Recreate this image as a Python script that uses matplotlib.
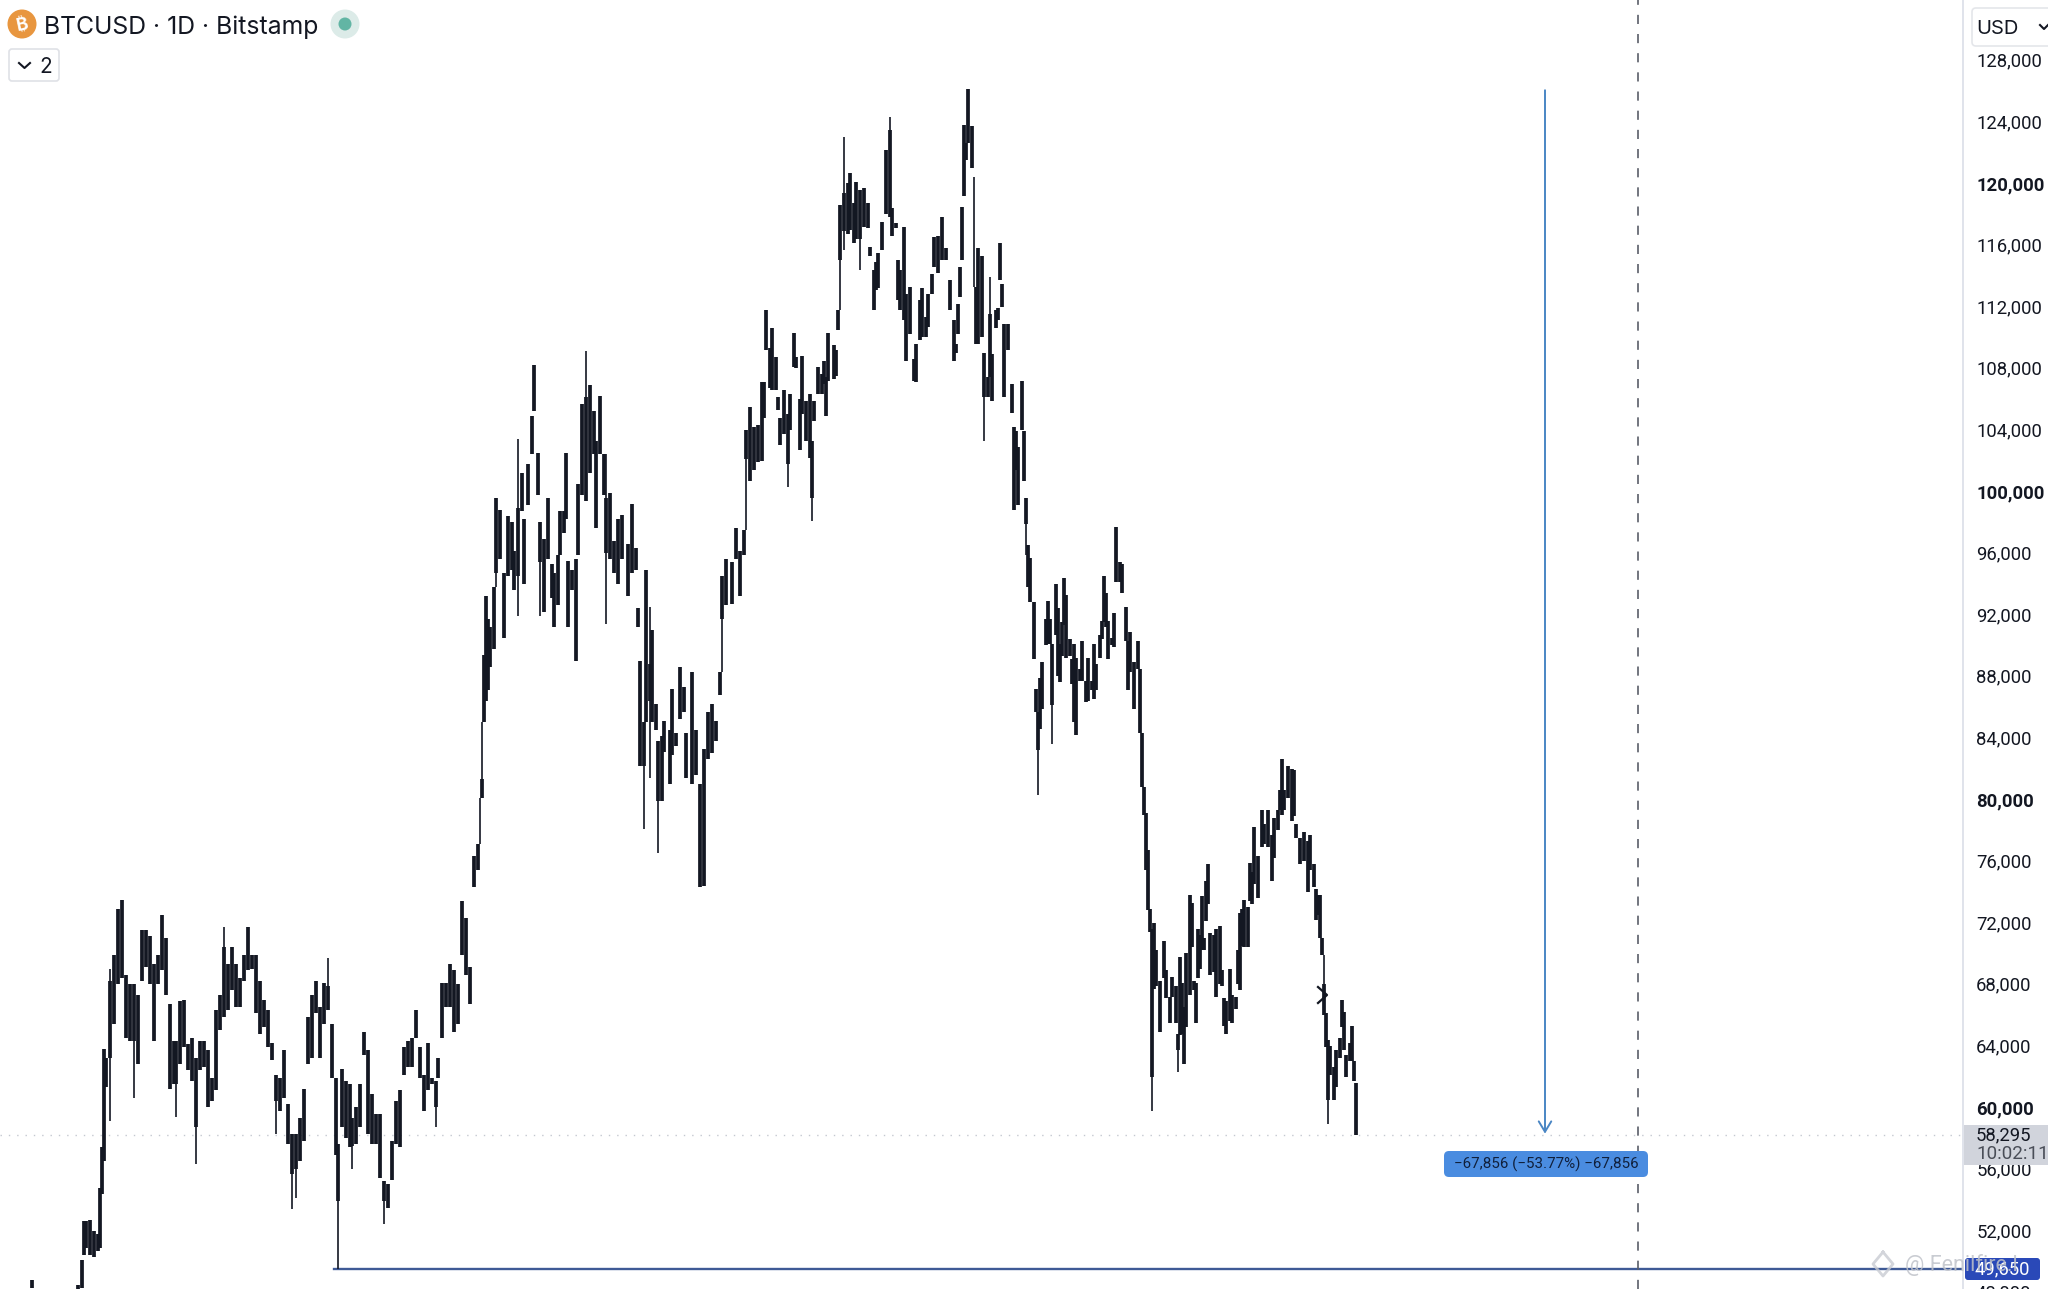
import matplotlib
matplotlib.use('Agg')
import matplotlib.pyplot as plt
from matplotlib.patches import Circle, FancyBboxPatch, Rectangle

# Prices in thousands of USD, one day = 2 px on the chart
days_a = [16, 39, 41, 42, 43, 45, 47, 49, 50, 51,
          52, 53, 55, 57, 59, 61, 63, 65, 67, 69,
          71, 73, 75, 77, 79, 81, 83, 85, 87, 88,
          90, 92, 94, 96, 98, 100, 102, 104, 106, 108,
          110, 112, 114, 116, 118, 120, 122, 124, 126, 128,
          130, 132, 134, 136, 138, 140, 142, 144, 146, 148,
          150, 152, 154, 156, 158, 160, 162, 164, 166, 168,
          169, 171, 173, 175, 176, 178, 180, 182, 184, 186,
          188, 190, 192, 194, 196, 198, 200, 202, 204, 206,
          208, 210, 212, 214, 216, 218, 219, 221, 223, 225,
          227, 229, 231, 233, 235, 237]
highs_a = [48.9, 48.6, 50.2, 52.7, 52.7, 52.8, 52.1, 51.9, 54.9, 57.5,
           63.9, 63.3, 68.3, 70.0, 73.0, 73.6, 68.7, 68.1, 68.1, 67.4,
           71.6, 71.6, 71.2, 69.4, 70.0, 72.6, 71.1, 66.8, 64.4, 64.4,
           67.0, 67.1, 64.2, 64.6, 63.3, 64.4, 64.4, 63.8, 62.0, 66.4,
           67.4, 70.5, 69.4, 70.5, 69.4, 68.5, 70.0, 71.8, 70.0, 70.0,
           68.3, 67.1, 66.4, 64.3, 62.2, 62.0, 63.8, 60.3, 58.4, 58.4,
           59.4, 61.3, 66.0, 67.4, 68.3, 66.6, 68.2, 68.0, 65.5, 62.0,
           57.7, 62.6, 61.8, 61.6, 59.4, 60.1, 61.6, 65.0, 63.8, 61.0,
           59.7, 59.7, 55.3, 55.1, 57.9, 60.5, 61.2, 64.0, 64.4, 64.6,
           66.4, 64.0, 62.2, 64.3, 62.0, 61.8, 63.3, 68.2, 68.2, 69.4,
           69.0, 68.1, 73.5, 72.4, 69.2, 76.4]
lows_a = [48.4, 48.1, 48.4, 50.5, 51.0, 50.5, 50.4, 50.8, 51.0, 54.5,
          56.6, 61.4, 63.3, 65.5, 68.1, 68.5, 64.6, 64.4, 64.4, 62.9,
          68.3, 69.2, 68.1, 64.4, 68.1, 69.0, 67.4, 61.3, 61.6, 61.6,
          62.9, 64.0, 62.5, 61.8, 58.8, 62.5, 62.7, 60.1, 60.5, 61.2,
          65.1, 66.0, 66.4, 67.7, 66.6, 66.6, 68.3, 69.0, 69.1, 66.2,
          64.9, 65.3, 64.0, 63.2, 60.5, 59.9, 60.7, 57.7, 55.8, 56.1,
          56.6, 57.9, 62.9, 63.3, 66.2, 63.3, 65.5, 66.4, 62.0, 57.0,
          54.0, 58.8, 58.1, 57.5, 57.6, 57.7, 58.8, 63.5, 58.4, 57.7,
          57.7, 55.5, 54.0, 53.6, 55.4, 57.7, 57.5, 62.2, 62.7, 62.7,
          64.6, 62.0, 59.9, 61.2, 61.6, 60.1, 62.0, 64.6, 66.6, 66.6,
          65.0, 65.5, 70.0, 68.7, 66.8, 74.4]

days_b = [239, 241, 242, 243, 244, 245, 247, 248, 250, 252,
          254, 256, 257, 259, 261, 262, 264, 266, 267, 269,
          270, 272, 274, 276, 277, 279, 280, 282, 283, 284,
          286, 288, 289, 291, 293, 295, 297, 298, 300, 302,
          303, 305, 307, 309, 311, 314, 316, 318, 319, 320,
          322, 323, 325, 326, 328, 329, 331, 332, 335, 336,
          338, 340, 342, 343, 346, 348, 350, 352, 354, 356,
          358, 360, 361, 363, 366, 368, 370, 372, 373, 375]
highs_b = [77.2, 81.4, 89.5, 93.3, 91.8, 91.3, 93.9, 99.7, 98.9, 94.8,
           98.5, 98.1, 96.2, 99.0, 101.3, 98.3, 101.9, 105.0, 108.3, 102.6,
           98.1, 97.0, 99.7, 95.4, 94.8, 96.0, 98.8, 98.8, 102.6, 95.6,
           95.0, 95.7, 100.6, 105.8, 106.2, 107.0, 105.3, 103.4, 106.3, 102.5,
           99.7, 100.0, 96.9, 98.3, 98.6, 96.7, 99.3, 96.4, 92.5, 89.1,
           85.1, 95.0, 88.9, 91.1, 86.3, 83.9, 84.2, 85.2, 84.6, 87.3,
           84.4, 88.7, 87.4, 84.4, 88.4, 84.6, 81.1, 83.4, 85.8, 86.3,
           85.2, 88.4, 94.6, 95.7, 95.5, 97.7, 96.2, 97.6, 104.1, 105.6]
lows_b = [75.5, 80.2, 85.1, 86.5, 87.2, 88.7, 89.9, 94.8, 95.7, 90.6,
          94.6, 95.0, 93.7, 94.6, 98.8, 94.1, 99.2, 102.5, 105.3, 99.9,
          95.5, 92.3, 95.7, 93.2, 91.3, 92.7, 96.0, 97.4, 98.3, 91.3,
          93.7, 89.1, 96.0, 99.9, 99.5, 101.3, 102.5, 97.7, 102.5, 99.9,
          96.1, 95.7, 94.8, 94.1, 95.7, 93.3, 94.8, 95.0, 91.3, 82.3,
          82.3, 85.1, 86.5, 85.1, 84.6, 80.0, 80.0, 83.2, 81.1, 83.0,
          83.6, 85.3, 85.8, 81.5, 81.1, 81.7, 74.4, 74.5, 82.7, 83.1,
          83.9, 86.9, 91.8, 92.7, 92.8, 95.7, 93.3, 96.0, 102.2, 100.8]

days_c = [377, 379, 381, 382, 383, 385, 386, 388, 389, 390,
          392, 394, 395, 397, 398, 400, 401, 403, 405, 406,
          407, 409, 411, 412, 413, 414, 417, 418, 419, 420,
          422, 424, 425, 427, 428, 430, 432, 434, 435, 437,
          438, 439, 441, 443, 445, 446, 448, 449, 450, 452,
          453, 455, 457, 458, 460, 461, 463, 464, 466, 467,
          469, 471, 473, 475, 477, 478, 479, 480, 481, 482,
          483, 484, 486, 488, 489, 491, 492, 494, 495, 496,
          498, 499, 500, 501, 502, 504, 506, 507, 508, 509,
          511, 512, 513]
highs_c = [104.3, 104.4, 107.2, 107.2, 111.9, 109.4, 110.7, 108.8, 106.2, 104.9,
           106.7, 105.1, 106.4, 110.4, 108.8, 106.1, 108.9, 106.0, 106.4, 103.4,
           106.0, 108.2, 107.7, 108.6, 107.5, 110.4, 109.6, 109.3, 111.9, 118.7,
           119.5, 120.1, 120.8, 118.8, 120.2, 119.7, 119.8, 118.8, 116.0, 114.5,
           115.0, 115.6, 117.6, 122.3, 123.6, 118.5, 117.5, 115.1, 114.5, 117.3,
           112.9, 113.4, 108.7, 109.7, 112.5, 113.3, 111.4, 112.9, 114.2, 116.6,
           116.7, 117.9, 115.9, 113.8, 111.2, 109.7, 112.3, 114.7, 118.6, 123.9,
           122.7, 126.2, 123.8, 113.4, 115.9, 115.4, 109.1, 107.5, 111.6, 109.0,
           111.9, 112.0, 116.2, 113.6, 111.0, 111.0, 107.1, 104.3, 104.0, 103.0,
           107.3, 104.0, 99.7]
lows_c = [101.5, 102.0, 102.1, 104.9, 109.3, 106.8, 106.7, 106.7, 105.4, 103.1,
          103.8, 101.9, 104.1, 108.2, 108.1, 102.8, 105.1, 103.4, 102.3, 99.7,
          104.7, 106.4, 106.4, 107.1, 105.0, 107.3, 107.4, 107.6, 110.6, 115.1,
          117.0, 116.8, 117.1, 116.2, 116.5, 116.5, 117.3, 117.2, 115.4, 111.9,
          113.2, 113.3, 115.8, 118.1, 117.9, 116.7, 117.2, 112.5, 111.9, 111.2,
          108.6, 110.3, 107.3, 107.2, 109.9, 110.1, 110.1, 110.8, 112.9, 114.7,
          114.3, 115.1, 115.1, 111.9, 108.6, 109.1, 110.3, 112.7, 115.1, 119.3,
          121.6, 122.7, 121.1, 109.7, 109.7, 110.1, 106.2, 106.2, 107.5, 106.0,
          110.7, 111.2, 113.8, 112.1, 106.2, 109.3, 105.2, 98.9, 101.5, 99.2,
          104.1, 100.8, 98.0]

days_d = [514, 515, 517, 518, 519, 520, 521, 523, 524, 525,
          526, 528, 529, 530, 531, 532, 533, 535, 536, 537,
          538, 540, 541, 543, 544, 546, 547, 548, 550, 551,
          552, 553, 554, 556, 557, 558, 560, 561, 563, 564,
          565, 567, 569, 570, 571, 572, 573, 574, 575, 576,
          577, 578, 580, 582, 583, 585, 586, 588, 589, 590,
          591, 592, 593, 595, 596, 597, 598, 599, 600, 601,
          602, 603, 604, 605, 607, 608, 610, 611, 612, 613,
          615, 616, 618, 619, 620, 621, 622, 624, 625, 626,
          627, 629]
highs_d = [96.6, 95.8, 92.9, 87.3, 85.8, 88.0, 89.0, 91.8, 93.0, 91.8,
           90.2, 94.1, 92.5, 90.2, 91.6, 94.5, 93.4, 90.5, 89.2, 90.2,
           89.3, 88.6, 90.4, 87.8, 89.3, 87.8, 90.2, 88.9, 90.8, 91.7,
           94.6, 93.5, 91.7, 90.6, 92.2, 97.8, 95.5, 95.4, 92.6, 90.4,
           91.0, 89.0, 90.4, 88.6, 84.4, 80.9, 79.2, 76.8, 73.0, 71.7,
           72.1, 70.3, 68.3, 70.9, 69.0, 67.3, 68.6, 68.0, 64.9, 69.9,
           68.2, 66.6, 70.1, 73.9, 73.4, 68.3, 68.2, 71.7, 71.3, 73.8,
           71.1, 74.8, 75.9, 71.4, 71.3, 71.7, 71.9, 69.0, 67.2, 67.0,
           69.1, 67.4, 67.3, 70.3, 72.7, 73.0, 73.6, 73.1, 76.0, 75.4,
           78.3, 76.4]
lows_d = [93.9, 92.9, 89.2, 85.8, 83.3, 84.7, 86.0, 90.1, 90.2, 90.2,
          86.2, 90.8, 88.1, 87.7, 89.4, 91.4, 89.3, 89.4, 87.6, 85.1,
          84.3, 87.8, 87.8, 86.4, 86.5, 87.2, 86.6, 87.2, 89.3, 90.5,
          91.6, 91.3, 89.2, 90.1, 90.0, 94.2, 94.2, 93.5, 90.4, 87.2,
          88.4, 86.0, 88.6, 84.4, 80.9, 79.1, 75.5, 72.9, 71.5, 62.1,
          67.8, 68.0, 65.0, 68.5, 67.2, 65.6, 67.3, 65.6, 63.8, 64.8,
          64.9, 62.9, 65.3, 67.4, 70.5, 67.7, 65.6, 68.5, 69.1, 70.3,
          70.3, 72.2, 73.3, 68.7, 68.9, 67.3, 68.1, 68.0, 65.4, 64.9,
          65.7, 65.6, 66.5, 68.1, 67.7, 70.6, 70.5, 70.5, 73.5, 73.3,
          74.6, 73.7]

days_e = [631, 632, 634, 636, 637, 639, 640, 641, 642, 644,
          646, 647, 648, 650, 652, 654, 655, 657, 658, 659,
          660, 661, 662, 663, 664, 665, 667, 668, 670, 671,
          672, 673, 675, 676, 677, 678]
highs_e = [79.4, 78.5, 79.4, 77.8, 78.9, 79.4, 80.7, 82.7, 80.7, 82.3,
           82.1, 82.0, 78.5, 77.6, 78.0, 77.4, 77.8, 75.9, 74.3, 73.9,
           73.9, 71.1, 68.1, 66.2, 64.5, 64.1, 62.7, 63.8, 64.6, 67.1,
           66.3, 63.5, 64.3, 65.4, 63.1, 61.7]
lows_e = [77.0, 77.2, 77.0, 74.8, 76.3, 78.1, 79.4, 79.1, 79.4, 80.2,
          78.7, 79.0, 77.6, 75.9, 76.1, 74.1, 75.5, 74.4, 72.3, 72.6,
          71.1, 70.0, 66.1, 64.0, 60.6, 62.2, 60.6, 61.4, 63.3, 65.3,
          63.8, 62.1, 63.1, 63.1, 61.8, 58.3]

# long thin wicks
wick_days = [55, 67, 88, 98, 112, 138, 146, 148, 164, 169, 176, 192, 218,
             240, 241, 248, 259, 270, 293, 303, 322, 325, 329, 361, 373,
             394, 406, 420, 422, 430, 445, 487, 492, 495, 513,
             519, 526, 576, 589, 662, 664]
wick_tops = [69.1, 68.1, 64.4, 63.3, 71.8, 62.2, 58.4, 58.4, 69.8, 57.7, 59.4, 55.3, 61.8,
             80.2, 85.1, 94.8, 103.5, 98.1, 109.2, 102.5, 85.1, 92.6, 83.9, 94.6, 102.2,
             105.1, 103.4, 115.1, 123.1, 119.7, 124.4, 120.5, 109.1, 114.0, 98.0,
             85.8, 90.2, 71.7, 64.9, 70.0, 64.5]
wick_ends = [59.2, 60.7, 59.5, 56.4, 66.0, 58.4, 53.5, 54.2, 66.4, 49.6, 56.1, 52.5, 58.8,
             77.2, 81.4, 93.9, 92.0, 92.0, 99.5, 91.5, 78.2, 81.5, 76.6, 88.4, 97.6,
             100.4, 98.2, 111.9, 115.8, 114.5, 117.9, 113.4, 103.4, 107.5, 96.0,
             80.4, 83.7, 59.9, 62.4, 66.1, 59.0]

tick_prices = [128, 124, 120, 116, 112, 108, 104, 100, 96, 92, 88, 84, 80, 76, 72, 68, 64, 60, 56, 52]
tick_labels = ['128,000', '124,000', '120,000', '116,000', '112,000', '108,000', '104,000',
               '100,000', '96,000', '92,000', '88,000', '84,000', '80,000', '76,000', '72,000',
               '68,000', '64,000', '60,000', '56,000', '52,000']
bold_labels = ['120,000', '100,000', '80,000', '60,000']

last_price = 58.295
support_price = 49.6
support_day = 167
arrow_day = 772.5
arrow_top = 126.151
cursor_day = 819

DARK = '#131722'
BLUE = '#4a86c4'

fig = plt.figure(figsize=(20.48, 12.89), dpi=100, facecolor='white')
ax = fig.add_axes([0, 0, 1963 / 2048, 1])

days = days_a + days_b + days_c + days_d + days_e
highs = highs_a + highs_b + highs_c + highs_d + highs_e
lows = lows_a + lows_b + lows_c + lows_d + lows_e
ax.vlines(days, lows, highs, color=DARK, linewidth=2.7, capstyle='butt', zorder=3)
ax.vlines(wick_days, wick_ends, wick_tops, color=DARK, linewidth=1.2, capstyle='butt', zorder=3)

# price lines and measure arrow
ax.axhline(last_price, color='#c4c8d0', linewidth=1, linestyle=(0, (1, 5)), zorder=1)
ax.plot([support_day, 981.5], [support_price, support_price], color='#3f5a96', linewidth=1.7, zorder=2)
ax.axvline(cursor_day, color='#5a5e68', linewidth=1.2, linestyle=(0, (5.5, 6)), zorder=6)
ax.annotate('', xy=(arrow_day, last_price + 0.1), xytext=(arrow_day, arrow_top),
            arrowprops=dict(arrowstyle='->,head_length=0.75,head_width=0.45', color=BLUE, linewidth=1.4,
                            shrinkA=0, shrinkB=0), zorder=4)

ax.set_xticks([])
ax.set_yticks(tick_prices)
ax.set_yticklabels(tick_labels, family='Roboto', fontsize=13.3, color=DARK, va='center')
ax.yaxis.tick_right()
ax.tick_params(axis='y', length=0, pad=9.5)
for lab in ax.get_yticklabels():
    if lab.get_text() in bold_labels:
        lab.set_fontweight('bold')
for side in ['top', 'left', 'bottom']:
    ax.spines[side].set_visible(False)
ax.spines['right'].set_color('#e0e3eb')
ax.spines['right'].set_linewidth(1.4)

# limits go last, set_yticks can widen them
ax.set_xlim(0, 981.5)
ax.set_ylim(48.31, 132.01)

# everything around the chart is placed in screen pixels
ui = fig.add_axes([0, 0, 1, 1], zorder=5)
ui.set_xlim(0, 2048)
ui.set_ylim(1289, 0)
ui.axis('off')
ui.patch.set_alpha(0)

# header
ui.add_patch(Circle((22, 24), 14.5, color='#e8963f', linewidth=0))
ui.text(22, 24.5, '₿', family=['Inter', 'Noto Sans', 'Roboto', 'Open Sans', 'Lato', 'DejaVu Sans'],
        fontsize=13, fontweight='bold', color='white', ha='center', va='center', rotation=12)
ui.text(44, 27, 'BTCUSD · 1D · Bitstamp', family='Inter', fontsize=17.85, color=DARK, ha='left', va='center')
ui.add_patch(Circle((345, 24), 14.5, color='#dcebe8', linewidth=0))
ui.add_patch(Circle((345, 24), 6.5, color='#62b5a4', linewidth=0))

ui.add_patch(FancyBboxPatch((9, 49), 50, 32, boxstyle='round,pad=0,rounding_size=3',
                            facecolor='white', edgecolor='#dfe1e6', linewidth=1.2))
ui.plot([19, 24.5, 30], [63, 68, 63], color=DARK, linewidth=1.5)
ui.text(46, 67, '2', family='Inter', fontsize=15, color=DARK, ha='center', va='center')

# currency box
ui.add_patch(FancyBboxPatch((1972, 8), 90, 38, boxstyle='round,pad=0,rounding_size=4',
                            facecolor='white', edgecolor='#e4e6ea', linewidth=1.2))
ui.text(1976, 29, 'USD', family='Inter', fontsize=14.5, color=DARK, ha='left', va='center')
ui.plot([2040, 2044, 2048], [25, 29, 25], color=DARK, linewidth=1.5)

# last price tag
ui.add_patch(Rectangle((1964, 1125), 84, 40, color='#d1d4dc', linewidth=0))
ui.text(1976, 1135, '58,295', family='Roboto', fontsize=13.3, color=DARK, ha='left', va='center')
ui.text(1976, 1154, '10:02:11', family='Roboto', fontsize=13.6, color='#4a4e58', ha='left', va='center')

# sliver of the next tick under the support tag
ui.text(1976, 1293, '48,000', family='Roboto', fontsize=13.3, color=DARK, ha='left', va='center')

# measure label
ui.add_patch(FancyBboxPatch((1444, 1151), 204, 26, boxstyle='round,pad=0,rounding_size=5',
                            facecolor='#4a8ce0', edgecolor='none', zorder=1))
ui.text(1546, 1164, '−67,856 (−53.77%) −67,856', family='Roboto', fontsize=10.9, color='#10203c',
        ha='center', va='center')

# support tag and watermark
ui.add_patch(FancyBboxPatch((1965, 1258), 75, 22, boxstyle='round,pad=0,rounding_size=3',
                            facecolor='#2a49b8', edgecolor='none'))
ui.text(2002, 1269, '49,650', family='Roboto', fontsize=13.3, color='white', ha='center', va='center')
ui.plot([1883, 1893, 1883, 1873, 1883], [1252, 1264, 1276, 1264, 1252], color='#c8cbd2', linewidth=2, alpha=0.8)
ui.text(1905, 1265, '@ Fenilfire.l', family='Roboto', fontsize=15.5, color='#c0c3ca', alpha=0.85,
        ha='left', va='center', zorder=6)

# crosshair cursor left on the chart
ui.plot([1318, 1327, 1318], [987, 995, 1003], color=DARK, linewidth=1.6)

fig.savefig('out.png', dpi=100, facecolor='white')
